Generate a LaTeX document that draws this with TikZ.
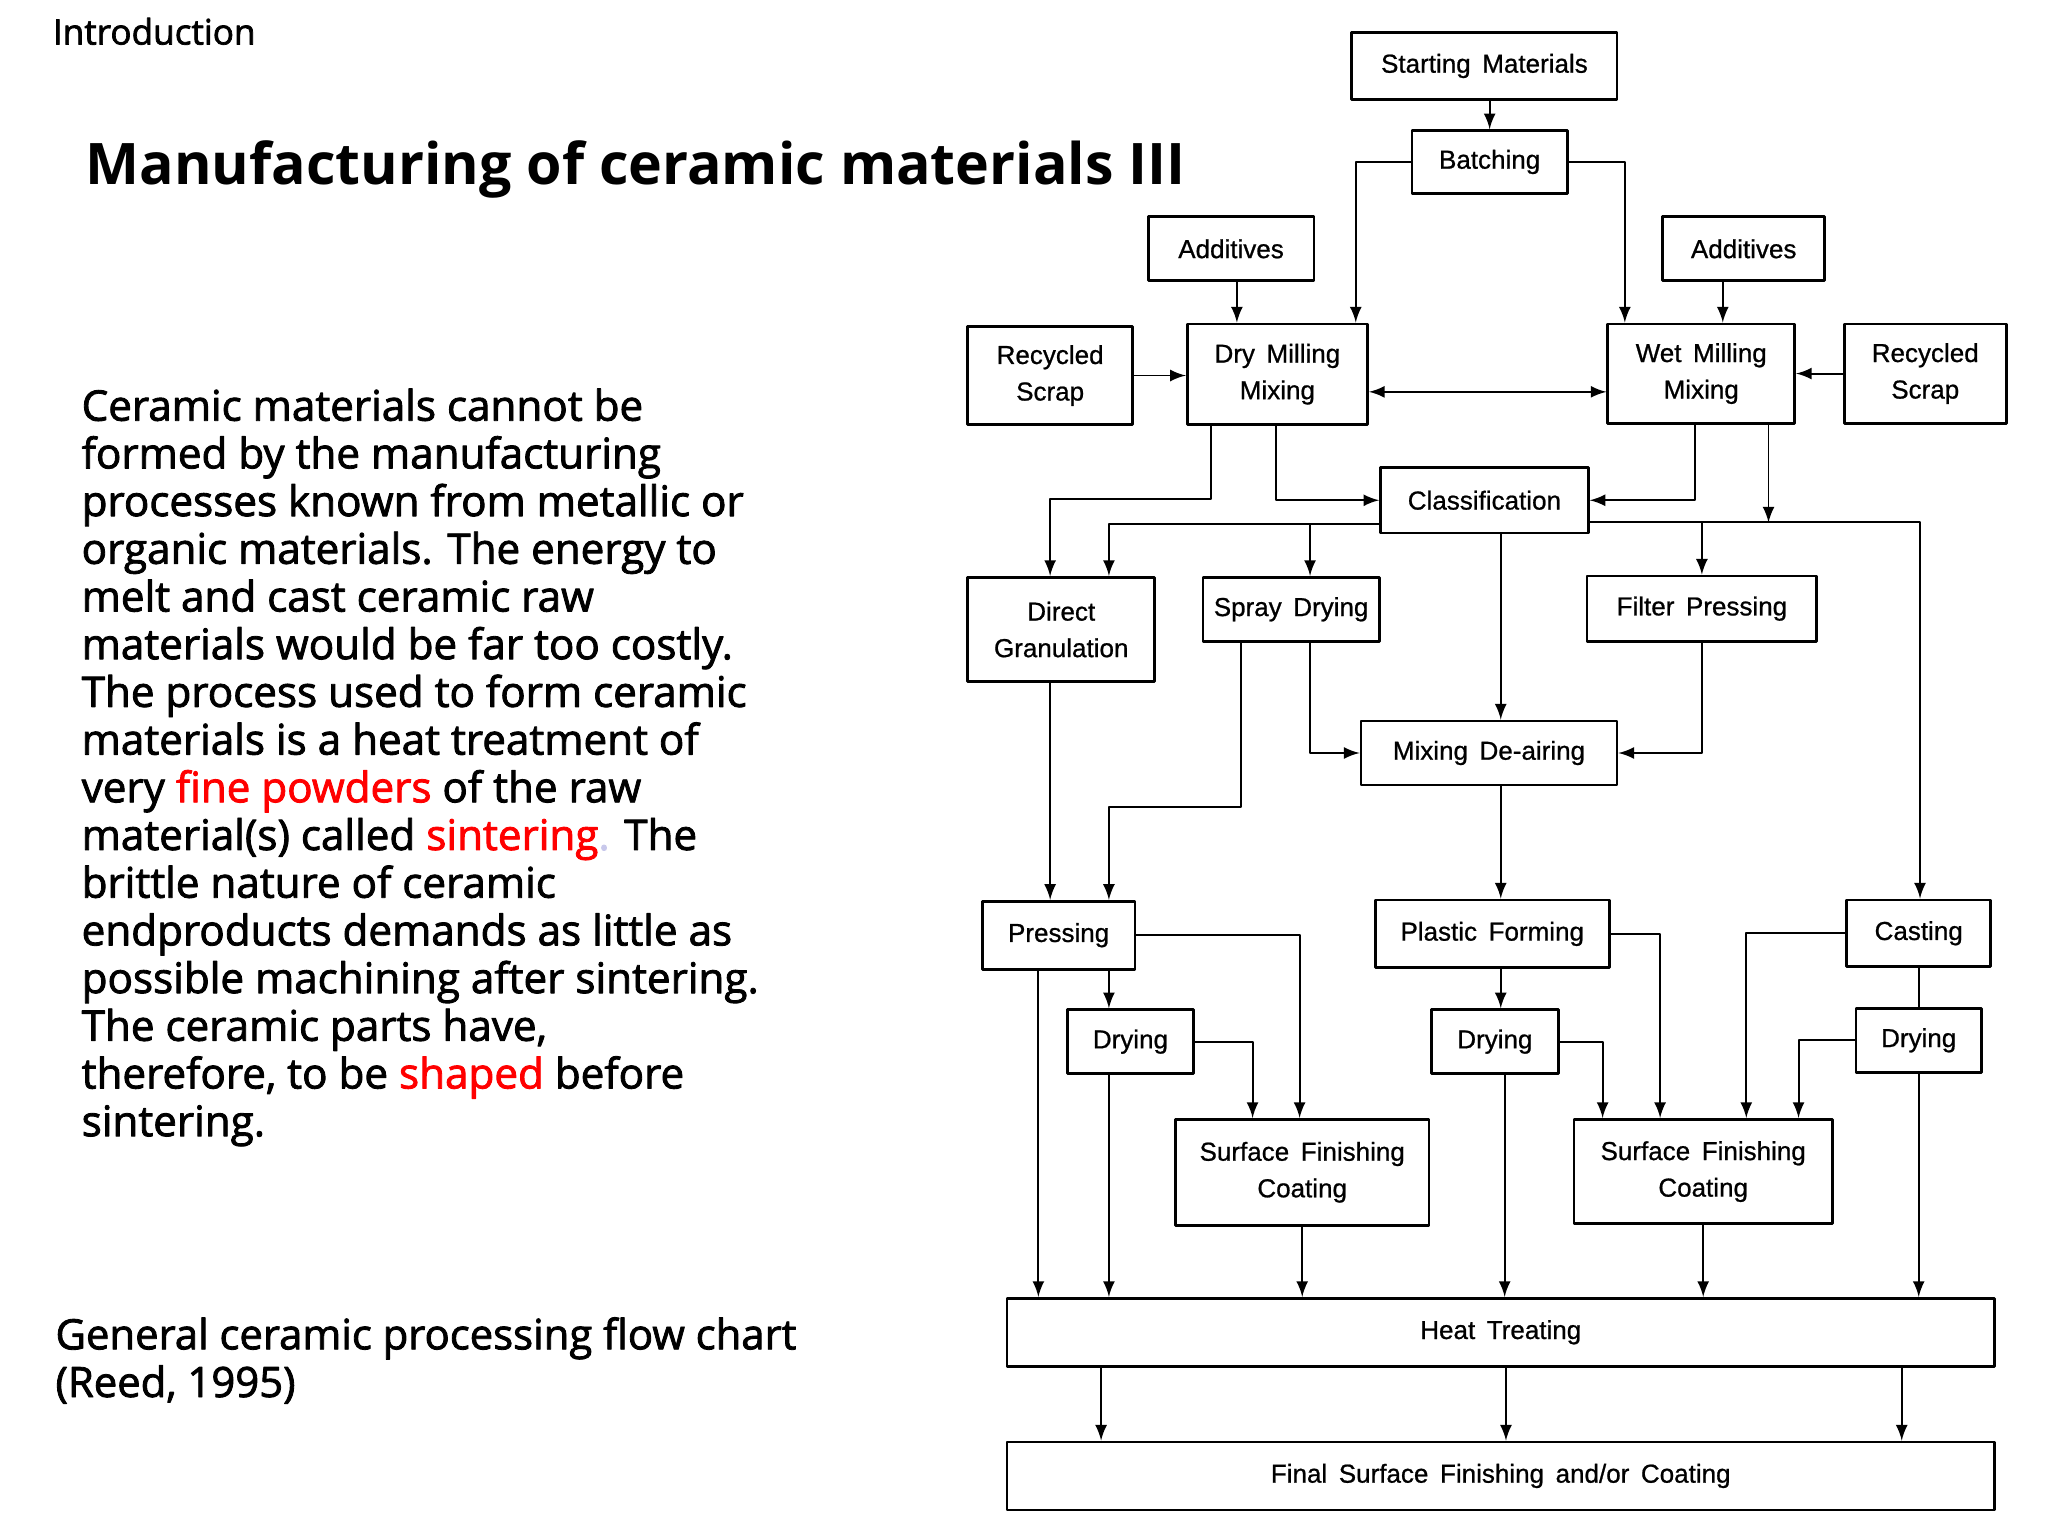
\documentclass[tikz,border=0pt]{standalone}
\usepackage{fontspec}
\setmainfont{Open Sans}
\newfontfamily\chartfont[WordSpace=1.6, FakeBold=0.8]{Liberation Sans}
\newfontfamily\slidefont[FakeBold=2]{Open Sans}
\definecolor{faintdot}{RGB}{200,200,235}
\begin{document}
\begin{tikzpicture}[x=0.1306mm, y=-0.1306mm, line join=round, >=latex,
    stage/.style={draw, line width=0.8pt, inner sep=1pt, align=center, font=\chartfont\fontsize{7.4}{10.4}\selectfont},
    wh/.style 2 args={minimum width=#1*0.1306mm, minimum height=#2*0.1306mm},
    flow/.style={->, line width=0.55pt},
    biflow/.style={<->, line width=0.55pt}]
	\useasboundingbox (0,0) rectangle (1568,1176);
	% slide texts
	\node[anchor=west, inner sep=0, font=\slidefont\fontsize{10}{12}\selectfont] (intro) at (40,24) {Introduction};
	\node[anchor=west, inner sep=0, font=\fontsize{16.3}{19}\selectfont\bfseries] (title) at (65,130) {Manufacturing of ceramic materials III};
	\node[anchor=north west, inner sep=0, align=left, font=\slidefont\fontsize{12}{13.57}\selectfont] (story) at (62,297) {Ceramic materials cannot be\\
		formed by the manufacturing\\
		processes known from metallic or\\
		organic materials. The energy to\\
		melt and cast ceramic raw\\
		materials would be far too costly.\\
		The process used to form ceramic\\
		materials is a heat treatment of\\
		very \textcolor{red}{fine powders} of the raw\\
		material(s) called \textcolor{red}{sintering}\textcolor{faintdot}{.} The\\
		brittle nature of ceramic\\
		endproducts demands as little as\\
		possible machining after sintering.\\
		The ceramic parts have,\\
		therefore, to be \textcolor{red}{shaped} before\\
		sintering.};
	\node[anchor=north west, inner sep=0, align=left, font=\slidefont\fontsize{11.9}{13.57}\selectfont] (caption) at (42,1008) {General ceramic processing flow chart\\(Reed, 1995)};
	% flow chart boxes
	\node[stage, wh={203}{51}] (start) at (1136.5,50.5) {Starting Materials};
	\node[stage, wh={119}{48}] (batch) at (1140.5,124) {Batching};
	\node[stage, wh={127}{49}] (addL) at (942.5,190.5) {Additives};
	\node[stage, wh={124}{49}] (addR) at (1335,190.5) {Additives};
	\node[stage, wh={126}{75}] (recL) at (804,287.5) {Recycled\\Scrap};
	\node[stage, wh={138}{77}] (dry) at (978,286.5) {Dry Milling\\Mixing};
	\node[stage, wh={143}{76}] (wet) at (1302.5,286) {Wet Milling\\Mixing};
	\node[stage, wh={124}{76}] (recR) at (1474,286) {Recycled\\Scrap};
	\node[stage, wh={159}{50}] (class) at (1136.5,383) {Classification};
	\node[stage, wh={143}{80}] (gran) at (812.5,482) {Direct\\Granulation};
	\node[stage, wh={135}{49}] (spray) at (988.5,466.5) {Spray Drying};
	\node[stage, wh={176}{50}] (filter) at (1303,466) {Filter Pressing};
	\node[stage, wh={196}{49}] (mix) at (1140,576.5) {Mixing De-airing};
	\node[stage, wh={117}{52}] (press) at (810.5,716) {Pressing};
	\node[stage, wh={179}{52}] (plastic) at (1142.5,715) {Plastic Forming};
	\node[stage, wh={110}{51}] (cast) at (1469,714.5) {Casting};
	\node[stage, wh={97}{49}] (dryL) at (865.5,797.5) {Drying};
	\node[stage, wh={97}{49}] (dryM) at (1144.5,797.5) {Drying};
	\node[stage, wh={96}{49}] (dryR) at (1469,796.5) {Drying};
	\node[stage, wh={194}{81}] (sfcL) at (997,897.5) {Surface Finishing\\Coating};
	\node[stage, wh={198}{80}] (sfcR) at (1304,897) {Surface Finishing\\Coating};
	\node[stage, wh={756}{52}] (heat) at (1149,1020) {Heat Treating};
	\node[stage, wh={756}{52}] (final) at (1149,1130) {Final Surface Finishing and/or Coating};
	% connectors
	\draw[flow] (batch.north |- start.south) -- (batch.north);
	\draw[flow] (batch.west) -| (1038,0 |- dry.north);
	\draw[flow] (batch.east) -| (1244,0 |- wet.north);
	\draw[flow] (947,0 |- addL.south) -- (947,0 |- dry.north);
	\draw[flow] (1319,0 |- addR.south) -- (1319,0 |- wet.north);
	\draw[flow] (recL.east) -- (recL.east -| dry.west);
	\draw[flow] (recR.west) -- (recR.west -| wet.east);
	\draw[biflow] (dry.east |- 0,300) -- (wet.west |- 0,300);
	\draw[flow] (927,0 |- dry.south) |- (804,382) -- (804,0 |- gran.north);
	\draw[flow] (977,0 |- dry.south) |- (class.west);
	\draw[flow] (1298,0 |- wet.south) |- (class.east);
	\draw[flow] (1354,0 |- wet.south) -- (1354,400);
	\draw[flow] (class.west |- 0,401) -| (849,0 |- gran.north);
	\draw[flow] (1003,401) -- (1003,0 |- spray.north);
	\draw[flow] (class.east |- 0,400) -| (1470,0 |- cast.north);
	\draw[flow] (filter.north |- 0,400) -- (filter.north);
	\draw[flow] (1149,0 |- class.south) -- (1149,0 |- mix.north);
	\draw[flow] (1003,0 |- spray.south) |- (mix.west);
	\draw[flow] (filter.south) |- (mix.east);
	\draw[flow] (950,0 |- spray.south) |- (849,618) -- (849,0 |- press.north);
	\draw[flow] (804,0 |- gran.south) -- (804,0 |- press.north);
	\draw[flow] (1149,0 |- mix.south) -- (1149,0 |- plastic.north);
	\draw[flow] (795,0 |- press.south) -- (795,0 |- heat.north);
	\draw[flow] (849,0 |- press.south) -- (849,0 |- dryL.north);
	\draw[flow] (press.east) -| (995,0 |- sfcL.north);
	\draw[flow] (dryL.east) -| (959,0 |- sfcL.north);
	\draw[flow] (849,0 |- dryL.south) -- (849,0 |- heat.north);
	\draw[flow] (sfcL.south) -- (sfcL.south |- heat.north);
	\draw[flow] (1149,0 |- plastic.south) -- (1149,0 |- dryM.north);
	\draw[flow] (plastic.east) -| (1271,0 |- sfcR.north);
	\draw[flow] (dryM.east) -| (1227,0 |- sfcR.north);
	\draw[flow] (1152,0 |- dryM.south) -- (1152,0 |- heat.north);
	\draw[flow] (cast.west) -| (1337,0 |- sfcR.north);
	\draw[line width=0.55pt] (cast.south) -- (dryR.north);
	\draw[flow] (dryR.west) -| (1377,0 |- sfcR.north);
	\draw[flow] (dryR.south) -- (dryR.south |- heat.north);
	\draw[flow] (sfcR.south) -- (sfcR.south |- heat.north);
	\foreach \x in {843,1153,1456}
		\draw[flow] (\x,0 |- heat.south) -- (\x,0 |- final.north);
\end{tikzpicture}
\end{document}
